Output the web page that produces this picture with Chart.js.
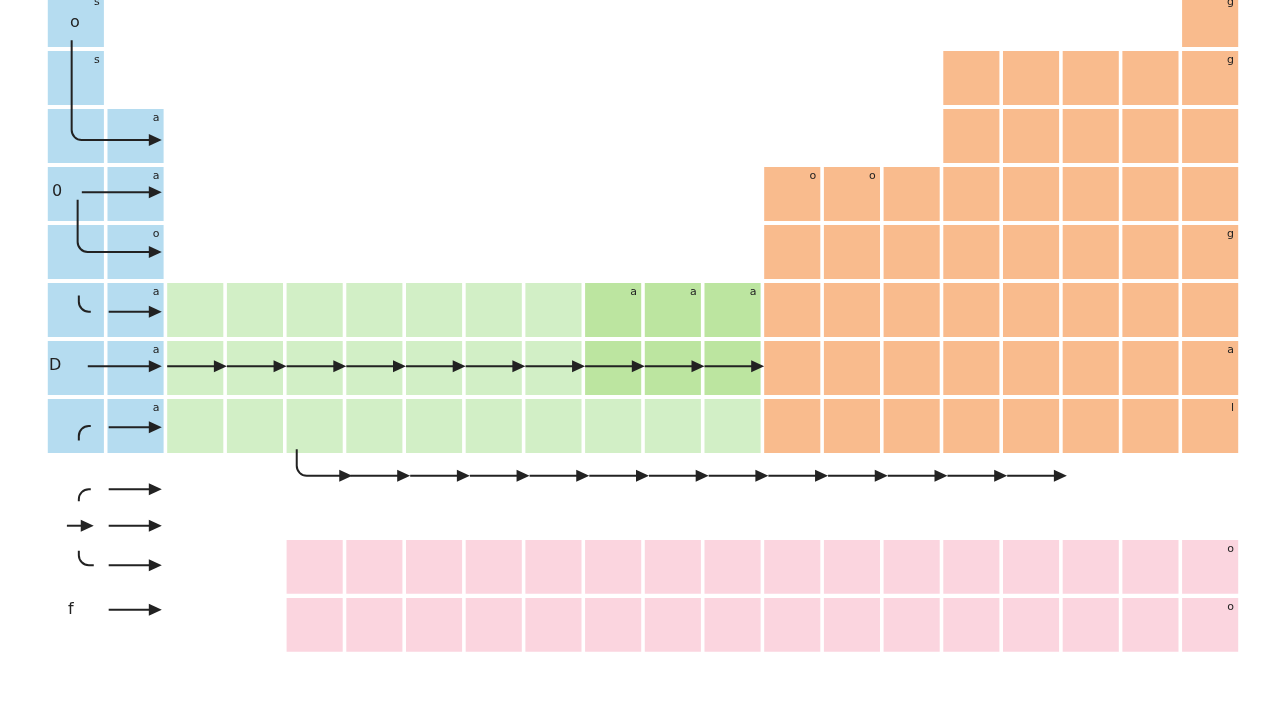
<!DOCTYPE html>
<html><head><meta charset="utf-8">
<script src="https://cdn.jsdelivr.net/npm/chart.js@4/dist/chart.umd.min.js"></script>
<style>html,body{margin:0;background:#fff}#w{width:1280px;height:720px}</style>
</head><body><div id="w"><canvas id="c"></canvas></div>
<script>
const columns = Array.from({length:20},(_,i)=>String(i+1));
const blueCells = [[0,1],[0,2],[0,3],[0,4],[0,5],[0,6],[0,7],[0,8],[1,3],[1,4],[1,5],[1,6],[1,7],[1,8]];
const greenCells = [];
for (let c=2;c<=11;c++) for (let r=6;r<=8;r++) if (!(c>=9 && r<=7)) greenCells.push([c,r]);
const greenDarkCells = [[9,6],[10,6],[11,6],[9,7],[10,7],[11,7]];
const orangeCells = [];
for (let c=12;c<=19;c++) for (let r=1;r<=8;r++) {
  if (r===1 && c<19) continue;
  if ((r===2||r===3) && c<15) continue;
  orangeCells.push([c,r]);
}
const pinkRows = [10.43, 11.43];
const pinkCells = [];
for (let c=4;c<=19;c++) for (const r of pinkRows) pinkCells.push([c,r]);
const cellLabels = [[0,1,'s'],[0,2,'s'],[1,3,'a'],[1,4,'a'],[1,5,'o'],[1,6,'a'],[1,7,'a'],[1,8,'a'],
  [9,6,'a'],[10,6,'a'],[11,6,'a'],[12,4,'o'],[13,4,'o'],[19,1,'g'],[19,2,'g'],[19,5,'g'],[19,7,'a'],[19,8,'l'],
  [19,10.43,'o'],[19,11.43,'o']];
const sideLabels = [[-0.1,1.05,'o'],[-0.4,3.97,'0'],[-0.45,6.97,'D'],[-0.13,11.17,'f']];
// arrows: polyline points [col,row]; corners rounded; head on final segment
const arrows = [
  [[-0.07,1.35],[-0.07,3.07],[1.44,3.07]],
  [[0.1,3.97],[1.44,3.97]],
  [[0.03,4.1],[0.03,5.0],[1.44,5.0]],
  [[0.05,5.75],[0.05,6.03],[0.25,6.03]], [[0.55,6.03],[1.44,6.03]],
  [[0.2,6.97],[1.44,6.97]],
  [[0.05,8.25],[0.05,8.0],[0.25,8.0]], [[0.55,8.02],[1.44,8.02]],
  [[3.7,8.4],[3.7,8.86],[4.63,8.86]],
  [[0.05,9.3],[0.05,9.09],[0.25,9.09]], [[0.55,9.09],[1.44,9.09]],
  [[-0.15,9.72],[0.3,9.72]], [[0.55,9.72],[1.44,9.72]],
  [[0.05,10.15],[0.05,10.4],[0.3,10.4]], [[0.55,10.4],[1.44,10.4]],
  [[0.55,11.17],[1.44,11.17]]
];
const rowSevenArrowCols = [2,3,4,5,6,7,8,9,10,11];
const lowArrowCols = [5,6,7,8,9,10,11,12,13,14,15,16];
rowSevenArrowCols.forEach(c=>arrows.push([[c-0.47,6.97],[c+0.53,6.97]]));
lowArrowCols.forEach(c=>arrows.push([[c-0.4,8.86],[c+0.6,8.86]]));

function ds(cells,color){
  return cells.map(([c,r])=>({
    data: columns.map((_,i)=> i===c ? [r-0.465, r+0.465] : null),
    backgroundColor: color, borderWidth:0, grouped:false,
    barPercentage:0.94, categoryPercentage:1
  }));
}
const datasets = [].concat(ds(blueCells,'#b5dcf0'), ds(greenCells,'#d2efc6'), ds(greenDarkCells,'#bce5a0'),
  ds(orangeCells,'#f9bb8d'), ds(pinkCells,'#fbd5df'));

const deco = {id:'deco', afterDatasetsDraw(ch){
  const x=ch.scales.x, y=ch.scales.y, ctx=ch.ctx;
  const X=v=>{const a=Math.floor(v),f=v-a;const p0=x.getPixelForValue(a),p1=x.getPixelForValue(a+1);return p0+(p1-p0)*f;};
  const Y=v=>y.getPixelForValue(v);
  ctx.save(); ctx.strokeStyle='#222'; ctx.fillStyle='#222'; ctx.lineWidth=2;
  arrows.forEach(pts=>{
    const P=pts.map(p=>[X(p[0]),Y(p[1])]);
    ctx.beginPath(); ctx.moveTo(P[0][0],P[0][1]);
    for(let i=1;i<P.length-1;i++) ctx.arcTo(P[i][0],P[i][1],P[i+1][0],P[i+1][1],10);
    const b=P[P.length-1], a=P[P.length-2];
    const head = Math.abs(b[1]-a[1])<0.5 && b[0]-a[0]>25;
    ctx.lineTo(head?b[0]-10:b[0],b[1]); ctx.stroke();
    if (head){
      ctx.beginPath(); ctx.moveTo(b[0],b[1]); ctx.lineTo(b[0]-13,b[1]-6); ctx.lineTo(b[0]-13,b[1]+6); ctx.closePath(); ctx.fill();
    }
  });
  ctx.font='11px "DejaVu Sans"'; ctx.textAlign='right'; ctx.textBaseline='top';
  cellLabels.forEach(([c,r,t])=>ctx.fillText(t,X(c+0.4),Y(r-0.4)));
  ctx.font='16px "DejaVu Sans"'; ctx.textAlign='left'; ctx.textBaseline='middle';
  sideLabels.forEach(([c,r,t])=>ctx.fillText(t,X(c),Y(r)));
  ctx.restore();
}};
new Chart(document.getElementById('c'),{type:'bar',data:{labels:columns,datasets},
  options:{responsive:true,maintainAspectRatio:false,animation:false,
    layout:{padding:{left:46,right:40,top:0,bottom:0}},
    plugins:{legend:{display:false},tooltip:{enabled:false}},
    scales:{x:{display:false,offset:true},y:{display:false,reverse:true,min:0.655,max:13.07}}},
  plugins:[deco]});
</script></body></html>
